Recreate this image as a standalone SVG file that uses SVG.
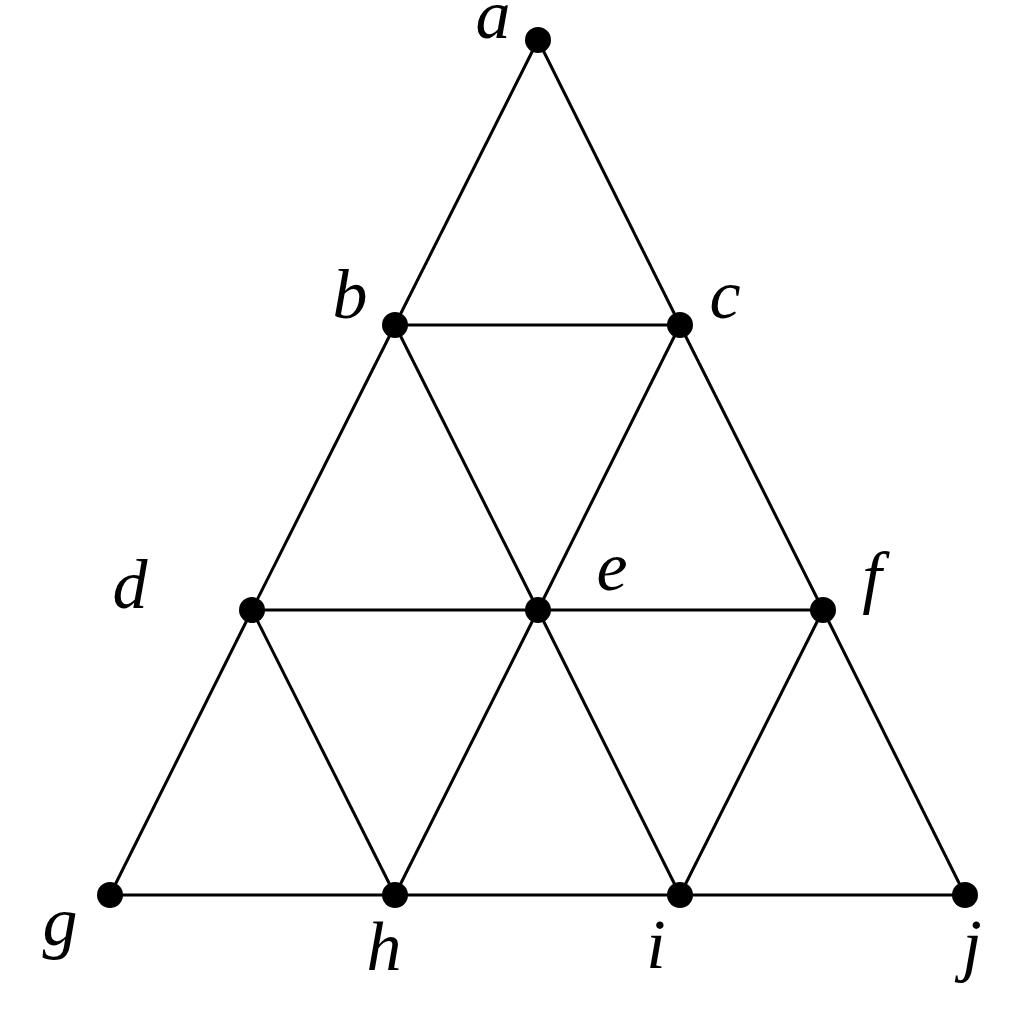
<svg xmlns="http://www.w3.org/2000/svg" width="1024" height="1016" viewBox="0 0 1024 1016">
<style>
.e{stroke:#000;stroke-width:3;fill:none}
.n{fill:#000}
.l{font-family:"Liberation Serif","DejaVu Serif",serif;font-style:italic;font-size:70px;fill:#000;text-anchor:middle}
</style>
<rect width="1024" height="1016" fill="#fff"/>
<g id="connectors">
<line class="e" x1="538" y1="40" x2="395" y2="325"/>
<line class="e" x1="538" y1="40" x2="680" y2="325"/>
<line class="e" x1="395" y1="325" x2="680" y2="325"/>
<line class="e" x1="395" y1="325" x2="252" y2="610"/>
<line class="e" x1="395" y1="325" x2="538" y2="610"/>
<line class="e" x1="680" y1="325" x2="538" y2="610"/>
<line class="e" x1="680" y1="325" x2="823" y2="610"/>
<line class="e" x1="252" y1="610" x2="823" y2="610"/>
<line class="e" x1="252" y1="610" x2="110" y2="895"/>
<line class="e" x1="252" y1="610" x2="395" y2="895"/>
<line class="e" x1="538" y1="610" x2="395" y2="895"/>
<line class="e" x1="538" y1="610" x2="680" y2="895"/>
<line class="e" x1="823" y1="610" x2="680" y2="895"/>
<line class="e" x1="823" y1="610" x2="965" y2="895"/>
<line class="e" x1="110" y1="895" x2="965" y2="895"/>
</g>
<g id="node-a"><circle class="n" cx="538" cy="40" r="13"/><text class="l" x="493" y="38">a</text></g>
<g id="node-b"><circle class="n" cx="395" cy="325" r="13"/><text class="l" x="350" y="318">b</text></g>
<g id="node-c"><circle class="n" cx="680" cy="325" r="13"/><text class="l" x="725" y="318">c</text></g>
<g id="node-d"><circle class="n" cx="252" cy="610" r="13"/><text class="l" x="130" y="608">d</text></g>
<g id="node-e"><circle class="n" cx="538" cy="610" r="13"/><text class="l" x="612" y="590">e</text></g>
<g id="node-f"><circle class="n" cx="823" cy="610" r="13"/><text class="l" x="872" y="600">f</text></g>
<g id="node-g"><circle class="n" cx="110" cy="895" r="13"/><text class="l" x="60" y="945">g</text></g>
<g id="node-h"><circle class="n" cx="395" cy="895" r="13"/><text class="l" x="384" y="970">h</text></g>
<g id="node-i"><circle class="n" cx="680" cy="895" r="13"/><text class="l" x="656" y="968">i</text></g>
<g id="node-j"><circle class="n" cx="965" cy="895" r="13"/><text class="l" x="972" y="968">j</text></g>
</svg>
